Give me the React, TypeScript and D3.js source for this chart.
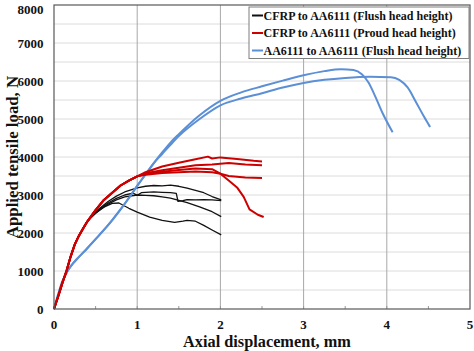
import React from "react";
import * as d3 from "d3";

// ---------- data ----------
const xTicks = [0, 1, 2, 3, 4, 5];
const yTicks = [0, 1000, 2000, 3000, 4000, 5000, 6000, 7000, 8000];
const legendLabels = [
  "CFRP to AA6111 (Flush head height)",
  "CFRP to AA6111 (Proud head height)",
  "AA6111 to AA6111 (Flush head height)",
];

// shared loading branch of the CFRP joints
const cfrpStart: [number, number][] = [
  [0, 0], [0.05, 330], [0.1, 680], [0.15, 1000], [0.2, 1380], [0.25, 1700],
  [0.3, 1930], [0.35, 2120], [0.4, 2300],
];

// CFRP flush (black)
const flush1: [number, number][] = [
  [0.45, 2450], [0.55, 2650], [0.65, 2830], [0.75, 2970], [0.85, 3080], [1.0, 3190],
  [1.1, 3230], [1.2, 3250], [1.3, 3240], [1.4, 3260], [1.5, 3230], [1.6, 3180],
  [1.7, 3120], [1.8, 3060], [1.9, 2960], [2.01, 2870],
];
const flush2: [number, number][] = [
  [0.45, 2440], [0.55, 2630], [0.65, 2790], [0.75, 2910], [0.85, 3000], [0.95, 3050],
  [1.0, 2990], [1.05, 3060], [1.2, 3080], [1.3, 3070], [1.4, 3060], [1.47, 3040],
  [1.49, 2830], [1.55, 2850], [1.6, 2880], [1.7, 2870], [1.8, 2880], [1.9, 2870], [2.01, 2850],
];
const flush3: [number, number][] = [
  [0.45, 2430], [0.55, 2610], [0.65, 2760], [0.75, 2870], [0.85, 2950], [1.0, 3000],
  [1.1, 2990], [1.2, 2980], [1.3, 2950], [1.4, 2920], [1.5, 2860], [1.6, 2800],
  [1.75, 2690], [1.9, 2560], [2.01, 2430],
];
const flush4: [number, number][] = [
  [0.5, 2520], [0.6, 2680], [0.7, 2780], [0.78, 2790], [0.9, 2650], [1.0, 2550],
  [1.15, 2420], [1.3, 2330], [1.45, 2280], [1.55, 2310], [1.6, 2330], [1.7, 2310],
  [1.8, 2200], [1.9, 2080], [2.01, 1950],
];

// CFRP proud (red)
const proudStart: [number, number][] = [
  [0.5, 2600], [0.6, 2870], [0.7, 3060], [0.8, 3250], [0.9, 3380], [1.0, 3490],
];
const proud1: [number, number][] = [
  [1.1, 3600], [1.3, 3750], [1.5, 3850], [1.7, 3940], [1.85, 4010], [1.9, 3960],
  [2.0, 3990], [2.2, 3950], [2.4, 3900], [2.5, 3880],
];
const proud2: [number, number][] = [
  [1.1, 3570], [1.3, 3650], [1.5, 3720], [1.7, 3780], [1.9, 3800], [2.1, 3840],
  [2.3, 3800], [2.5, 3780],
];
const proud3: [number, number][] = [
  [1.1, 3550], [1.3, 3610], [1.5, 3660], [1.7, 3700], [1.9, 3680], [2.0, 3560],
  [2.1, 3380], [2.2, 3200], [2.28, 2950], [2.35, 2620], [2.45, 2480], [2.52, 2420],
];
const proud4: [number, number][] = [
  [1.1, 3530], [1.3, 3580], [1.5, 3600], [1.7, 3620], [1.9, 3600], [2.0, 3560],
  [2.1, 3500], [2.3, 3460], [2.5, 3450],
];

// AA6111 to AA6111 (blue)
const alStart: [number, number][] = [
  [0, 0], [0.05, 380], [0.1, 720], [0.15, 950], [0.2, 1120], [0.3, 1370], [0.4, 1600],
  [0.5, 1840], [0.6, 2080], [0.7, 2340], [0.8, 2620], [0.9, 2920], [1.0, 3240],
  [1.1, 3540], [1.2, 3840],
];
const al1: [number, number][] = [
  [1.3, 4120], [1.4, 4380], [1.5, 4600], [1.75, 5100], [2.0, 5480], [2.25, 5700],
  [2.5, 5860], [2.75, 6010], [3.0, 6150], [3.25, 6260], [3.45, 6310], [3.6, 6290],
  [3.7, 6180], [3.78, 5960], [3.85, 5650], [3.95, 5150], [4.07, 4650],
];
const al2: [number, number][] = [
  [1.3, 4080], [1.4, 4320], [1.5, 4550], [1.75, 5000], [2.0, 5360], [2.25, 5540],
  [2.5, 5680], [2.75, 5830], [3.0, 5950], [3.25, 6030], [3.5, 6080], [3.8, 6110],
  [4.05, 6100], [4.15, 6030], [4.25, 5830], [4.35, 5450], [4.45, 5050], [4.52, 4790],
];

const blackSeries = [flush1, flush2, flush3, flush4].map((s) => [...cfrpStart, ...s]);
const redSeries = [proud1, proud2, proud3, proud4].map((s) => [...cfrpStart, ...proudStart, ...s]);
const blueSeries = [al1, al2].map((s) => [...alStart, ...s]);

// ---------- layout ----------
const W = 474, H = 351;
const L = 54, R = 470, T = 5, B = 309;
const FONT = "'Times New Roman', 'Liberation Serif', serif";
const BLACK = "#111111", RED = "#cc0000", BLUE = "#5b8fd6";

export default function App() {
  const x = d3.scaleLinear().domain([0, 5]).range([L, R]);
  const y = d3.scaleLinear().domain([0, 8000]).range([B, T]);
  const smooth = d3.line<[number, number]>().x((d) => x(d[0])).y((d) => y(d[1])).curve(d3.curveMonotoneX);
  const jag = d3.line<[number, number]>().x((d) => x(d[0])).y((d) => y(d[1]));
  const minorY = d3.range(500, 8000, 500);
  const minorX = d3.range(0.5, 5, 0.5);

  const legendRows = [BLACK, RED, BLUE];

  return (
    <svg width={W} height={H} style={{ position: "absolute", left: 0, top: 0, background: "#fff" }} fontFamily={FONT}>
      <rect x={0} y={0} width={W} height={H} fill="#fff" />
      {/* horizontal grid */}
      {minorY.map((v) => (
        <line key={"h" + v} x1={L} x2={R} y1={y(v)} y2={y(v)} stroke="#dcdcdc" strokeWidth={1} />
      ))}
      {/* vertical grid */}
      {xTicks.slice(1, -1).map((v) => (
        <line key={"v" + v} x1={x(v)} x2={x(v)} y1={T} y2={B} stroke="#a8a8a8" strokeWidth={1} />
      ))}
      {/* minor ticks on x axis */}
      {minorX.map((v) => (
        <line key={"mt" + v} x1={x(v)} x2={x(v)} y1={B} y2={B - 3} stroke="#999" strokeWidth={1} />
      ))}
      {/* curves */}
      {blackSeries.map((s, i) => (
        <path key={"k" + i} d={jag(s) || ""} fill="none" stroke={BLACK} strokeWidth={1.3} strokeLinejoin="round" />
      ))}
      {blueSeries.map((s, i) => (
        <path key={"b" + i} d={smooth(s) || ""} fill="none" stroke={BLUE} strokeWidth={2} />
      ))}
      {redSeries.map((s, i) => (
        <path key={"r" + i} d={jag(s) || ""} fill="none" stroke={RED} strokeWidth={2} strokeLinejoin="round" />
      ))}
      {/* plot frame */}
      <rect x={L} y={T} width={R - L} height={B - T} fill="none" stroke="#595959" strokeWidth={1.2} />
      {/* y tick labels */}
      {yTicks.map((v) => (
        <text key={"yt" + v} x={43.5} y={Math.max(y(v), 9)} dy="0.35em" textAnchor="end" fontSize={13} fontWeight="bold" fill="#111">
          {v}
        </text>
      ))}
      {/* x tick labels */}
      {xTicks.map((v) => (
        <text key={"xt" + v} x={x(v)} y={328.5} textAnchor="middle" fontSize={13} fontWeight="bold" fill="#111">
          {v}
        </text>
      ))}
      {/* axis titles */}
      <text x={267} y={346.5} textAnchor="middle" fontSize={16.3} fontWeight="bold" fill="#111">
        Axial displacement, mm
      </text>
      <text
        transform={`translate(18, ${(T + B) / 2}) rotate(-90)`}
        textAnchor="middle"
        fontSize={16.8}
        fontWeight="bold"
        fill="#111"
      >
        Applied tensile load, N
      </text>
      {/* legend */}
      <rect x={249} y={7} width={220} height={51.5} fill="#fff" stroke="#7f7f7f" strokeWidth={1} />
      {legendLabels.map((lab, i) => (
        <g key={"lg" + i}>
          <line x1={252} x2={263} y1={15.5 + i * 17.5} y2={15.5 + i * 17.5} stroke={legendRows[i]} strokeWidth={2} />
          <text x={263.5} y={15.5 + i * 17.5} dy="0.35em" fontSize={12} fontWeight="bold" fill="#111">
            {lab}
          </text>
        </g>
      ))}
    </svg>
  );
}
